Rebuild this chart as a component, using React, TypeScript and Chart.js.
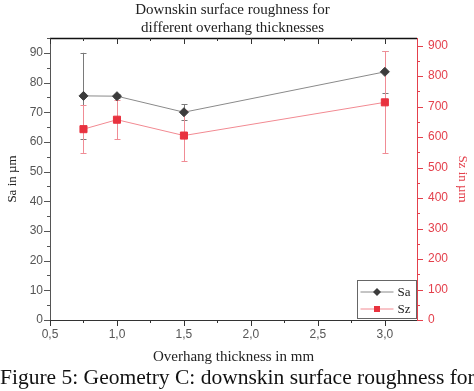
import React, { useEffect, useRef } from 'react';
import { Chart, registerables } from 'chart.js';

Chart.register(...registerables);

// ---- data ----
const thickness = [0.75, 1.0, 1.5, 3.0];
const saValues = [75.5, 75.4, 70.0, 83.6];
const saErrors = [14.5, 0.6, 2.7, 7.0];
const szValues = [626, 657, 605, 714];
const szErrors = [78, 64, 84, 167];
const seriesLabels = ['Sa', 'Sz'];
const titleLines = ['Downskin surface roughness for', 'different overhang thicknesses'];
const xTitle = 'Overhang thickness in mm';
const saTitle = 'Sa in µm';
const szTitle = 'Sz in µm';
const caption = 'Figure 5: Geometry C: downskin surface roughness for';
const xRange = [0.5, 3.24];
const saRange = [0, 95];
const szRange = [0, 925];
const xStep = 0.5;
const saStep = 10;
const szStep = 100;

const GRAY_MARK = '#3c3c3c';
const GRAY_LINE = '#8a8a8a';
const GRAY_ERR = '#7a7a7a';
const RED_MARK = '#e8323f';
const RED_LINE = '#f28a92';
const RED_ERR = '#f08c95';
const RED_AXIS = '#e4404c';

const errorBarPlugin = {
  id: 'errorBars',
  beforeDatasetsDraw(chart: any) {
    const ctx = chart.ctx;
    chart.data.datasets.forEach((ds: any, i: number) => {
      const meta = chart.getDatasetMeta(i);
      const ys = chart.scales[meta.yAxisID];
      ctx.save();
      ctx.strokeStyle = ds.errorColor;
      ctx.lineWidth = 1;
      meta.data.forEach((pt: any, j: number) => {
        const v = ds.data[j].y;
        const e = ds.errors[j];
        const top = ys.getPixelForValue(v + e);
        const bot = ys.getPixelForValue(v - e);
        const x = Math.round(pt.x) + 0.5;
        ctx.beginPath();
        ctx.moveTo(x, top);
        ctx.lineTo(x, bot);
        ctx.moveTo(x - 3, Math.round(top) + 0.5);
        ctx.lineTo(x + 3, Math.round(top) + 0.5);
        ctx.moveTo(x - 3, Math.round(bot) + 0.5);
        ctx.lineTo(x + 3, Math.round(bot) + 0.5);
        ctx.stroke();
      });
      ctx.restore();
    });
  },
};

function minorValues(scale: any): number[] {
  const t = scale.ticks.map((k: any) => k.value);
  const step = t[1] - t[0];
  const out: number[] = [];
  for (let i = 0; i < t.length; i++) {
    const m = t[i] + step / 2;
    if (m <= scale.max + 1e-9) out.push(m);
  }
  return out;
}

const axisTicksPlugin = {
  id: 'axisTicks',
  afterDraw(chart: any) {
    const { ctx, chartArea: ca, scales } = chart;
    const xs = scales.x, ys = scales.y, y2 = scales.y2;
    const MAJ = 6, MIN = 3;
    ctx.save();
    // top frame
    ctx.strokeStyle = '#111';
    ctx.lineWidth = 1.5;
    ctx.beginPath();
    ctx.moveTo(ca.left, ca.top + 0.5);
    ctx.lineTo(ca.right, ca.top + 0.5);
    ctx.stroke();
    ctx.lineWidth = 1;
    // x ticks bottom (outward) and top (inward)
    const xMaj = xs.ticks.map((k: any) => k.value);
    const xMin = minorValues(xs);
    const drawX = (vals: number[], len: number, color: string) => {
      ctx.strokeStyle = color;
      ctx.beginPath();
      vals.forEach((v) => {
        const px = Math.round(xs.getPixelForValue(v)) + 0.5;
        ctx.moveTo(px, ca.bottom);
        ctx.lineTo(px, ca.bottom + len);
        ctx.moveTo(px, ca.top);
        ctx.lineTo(px, ca.top + len);
      });
      ctx.stroke();
    };
    drawX(xMaj, MAJ, '#333');
    drawX(xMin, MIN, '#333');
    const drawY = (scale: any, vals: number[], len: number, color: string, side: number) => {
      ctx.strokeStyle = color;
      ctx.beginPath();
      vals.forEach((v) => {
        const py = Math.round(scale.getPixelForValue(v)) + 0.5;
        const x0 = side < 0 ? ca.left : ca.right;
        ctx.moveTo(x0, py);
        ctx.lineTo(x0 + side * len, py);
      });
      ctx.stroke();
    };
    drawY(ys, ys.ticks.map((k: any) => k.value), MAJ, '#555', -1);
    drawY(ys, minorValues(ys), MIN, '#555', -1);
    drawY(y2, y2.ticks.map((k: any) => k.value), MAJ, RED_AXIS, 1);
    drawY(y2, minorValues(y2), MIN, RED_AXIS, 1);
    ctx.restore();
  },
};

const legendPlugin = {
  id: 'boxLegend',
  afterDraw(chart: any) {
    const { ctx, chartArea: ca } = chart;
    const w = 59, h = 38;
    const x0 = Math.round(ca.right - w - 1) + 0.5;
    const y0 = Math.round(ca.bottom - h - 2) + 0.5;
    ctx.save();
    ctx.fillStyle = '#fff';
    ctx.fillRect(x0, y0, w, h);
    ctx.strokeStyle = '#666';
    ctx.lineWidth = 1;
    ctx.strokeRect(x0, y0, w, h);
    const rows = [y0 + 11.5, y0 + 28.5];
    chart.data.datasets.forEach((ds: any, i: number) => {
      const yy = rows[i];
      ctx.strokeStyle = ds.borderColor;
      ctx.beginPath();
      ctx.moveTo(x0 + 3, yy);
      ctx.lineTo(x0 + 36, yy);
      ctx.stroke();
      const cx = x0 + 19.5;
      ctx.fillStyle = ds.pointBackgroundColor;
      ctx.beginPath();
      if (ds.pointStyle === 'rectRot') {
        const r = 4;
        ctx.moveTo(cx, yy - r);
        ctx.lineTo(cx + r, yy);
        ctx.lineTo(cx, yy + r);
        ctx.lineTo(cx - r, yy);
        ctx.closePath();
        ctx.fill();
      } else {
        ctx.fillRect(cx - 3, yy - 3, 6, 6);
      }
      ctx.fillStyle = '#222';
      ctx.font = '13px "Liberation Serif"';
      ctx.textBaseline = 'middle';
      ctx.textAlign = 'left';
      ctx.fillText(ds.label, x0 + 40, yy + 0.5);
    });
    ctx.restore();
  },
};

export default function App() {
  const canvasRef = useRef<HTMLCanvasElement | null>(null);

  useEffect(() => {
    document.body.style.margin = '0';
    const canvas = canvasRef.current;
    if (!canvas) return;
    const chart = new Chart(canvas, {
      type: 'line',
      data: {
        datasets: [
          {
            label: seriesLabels[0],
            data: thickness.map((t, i) => ({ x: t, y: saValues[i] })),
            yAxisID: 'y',
            borderColor: GRAY_LINE,
            borderWidth: 1,
            pointStyle: 'rectRot',
            pointRadius: 4.5,
            pointBackgroundColor: GRAY_MARK,
            pointBorderColor: GRAY_MARK,
            pointBorderWidth: 1,
            errors: saErrors,
            errorColor: GRAY_ERR,
          } as any,
          {
            label: seriesLabels[1],
            data: thickness.map((t, i) => ({ x: t, y: szValues[i] })),
            yAxisID: 'y2',
            borderColor: RED_LINE,
            borderWidth: 1,
            pointStyle: 'rect',
            pointRadius: 5,
            pointBackgroundColor: RED_MARK,
            pointBorderColor: RED_MARK,
            pointBorderWidth: 1,
            errors: szErrors,
            errorColor: RED_ERR,
          } as any,
        ],
      },
      options: {
        responsive: false,
        animation: false,
        devicePixelRatio: 1,
        layout: { padding: { left: 0, right: 9, top: 0, bottom: 0 } },
        plugins: {
          legend: { display: false },
          tooltip: { enabled: false },
          title: {
            display: true,
            text: titleLines,
            color: '#222',
            font: { family: 'Liberation Serif', size: 15, weight: 'normal', lineHeight: 1.2 },
            padding: { top: 1, bottom: 1 },
          },
        },
        scales: {
          x: {
            type: 'linear',
            min: xRange[0],
            max: xRange[1],
            grid: { display: false, drawTicks: false },
            border: { display: true, color: '#333', width: 1 },
            ticks: {
              stepSize: xStep,
              includeBounds: false,
              padding: 7,
              color: '#555',
              font: { family: 'Liberation Sans', size: 12 },
              maxRotation: 0,
              callback: (v: any) => Number(v).toFixed(1).replace('.', ','),
            },
            title: {
              display: true,
              text: xTitle,
              color: '#222',
              font: { family: 'Liberation Serif', size: 15, lineHeight: 1.2 },
              padding: { top: 0, bottom: 25 },
            },
            afterFit: (s: any) => { s.height = 71; },
          },
          y: {
            type: 'linear',
            position: 'left',
            min: saRange[0],
            max: saRange[1],
            grid: { display: false, drawTicks: false },
            border: { display: true, color: '#555', width: 1 },
            ticks: {
              stepSize: saStep,
              includeBounds: false,
              padding: 7,
              color: '#555',
              font: { family: 'Liberation Sans', size: 12 },
            },
            title: {
              display: true,
              text: saTitle,
              color: '#222',
              font: { family: 'Liberation Serif', size: 13, lineHeight: 1.2 },
              padding: { top: 4.7, bottom: 0 },
            },
            afterFit: (s: any) => { s.width = 50; },
          },
          y2: {
            type: 'linear',
            position: 'right',
            min: szRange[0],
            max: szRange[1],
            grid: { display: false, drawTicks: false },
            border: { display: true, color: RED_AXIS, width: 1 },
            ticks: {
              stepSize: szStep,
              includeBounds: false,
              padding: 11,
              color: RED_AXIS,
              font: { family: 'Liberation Sans', size: 12 },
            },
            title: {
              display: true,
              text: szTitle,
              color: RED_AXIS,
              font: { family: 'Liberation Serif', size: 13, lineHeight: 1.2 },
              padding: { top: -5.3, bottom: 0 },
            },
            afterFit: (s: any) => { s.width = 48; },
          },
        },
      } as any,
      plugins: [errorBarPlugin, axisTicksPlugin, legendPlugin],
    });
    return () => chart.destroy();
  }, []);

  return (
    <div style={{ position: 'relative', width: 474, height: 391, overflow: 'hidden', background: '#fff' }}>
      <canvas ref={canvasRef} width={474} height={391} style={{ display: 'block', width: 474, height: 391 }} />
      <div
        style={{
          position: 'absolute',
          left: 0,
          top: 366,
          fontFamily: '"Liberation Serif", "Times New Roman", serif',
          fontSize: 21.5,
          lineHeight: '23px',
          color: '#111',
          whiteSpace: 'nowrap',
        }}
      >
        {caption}
      </div>
    </div>
  );
}
